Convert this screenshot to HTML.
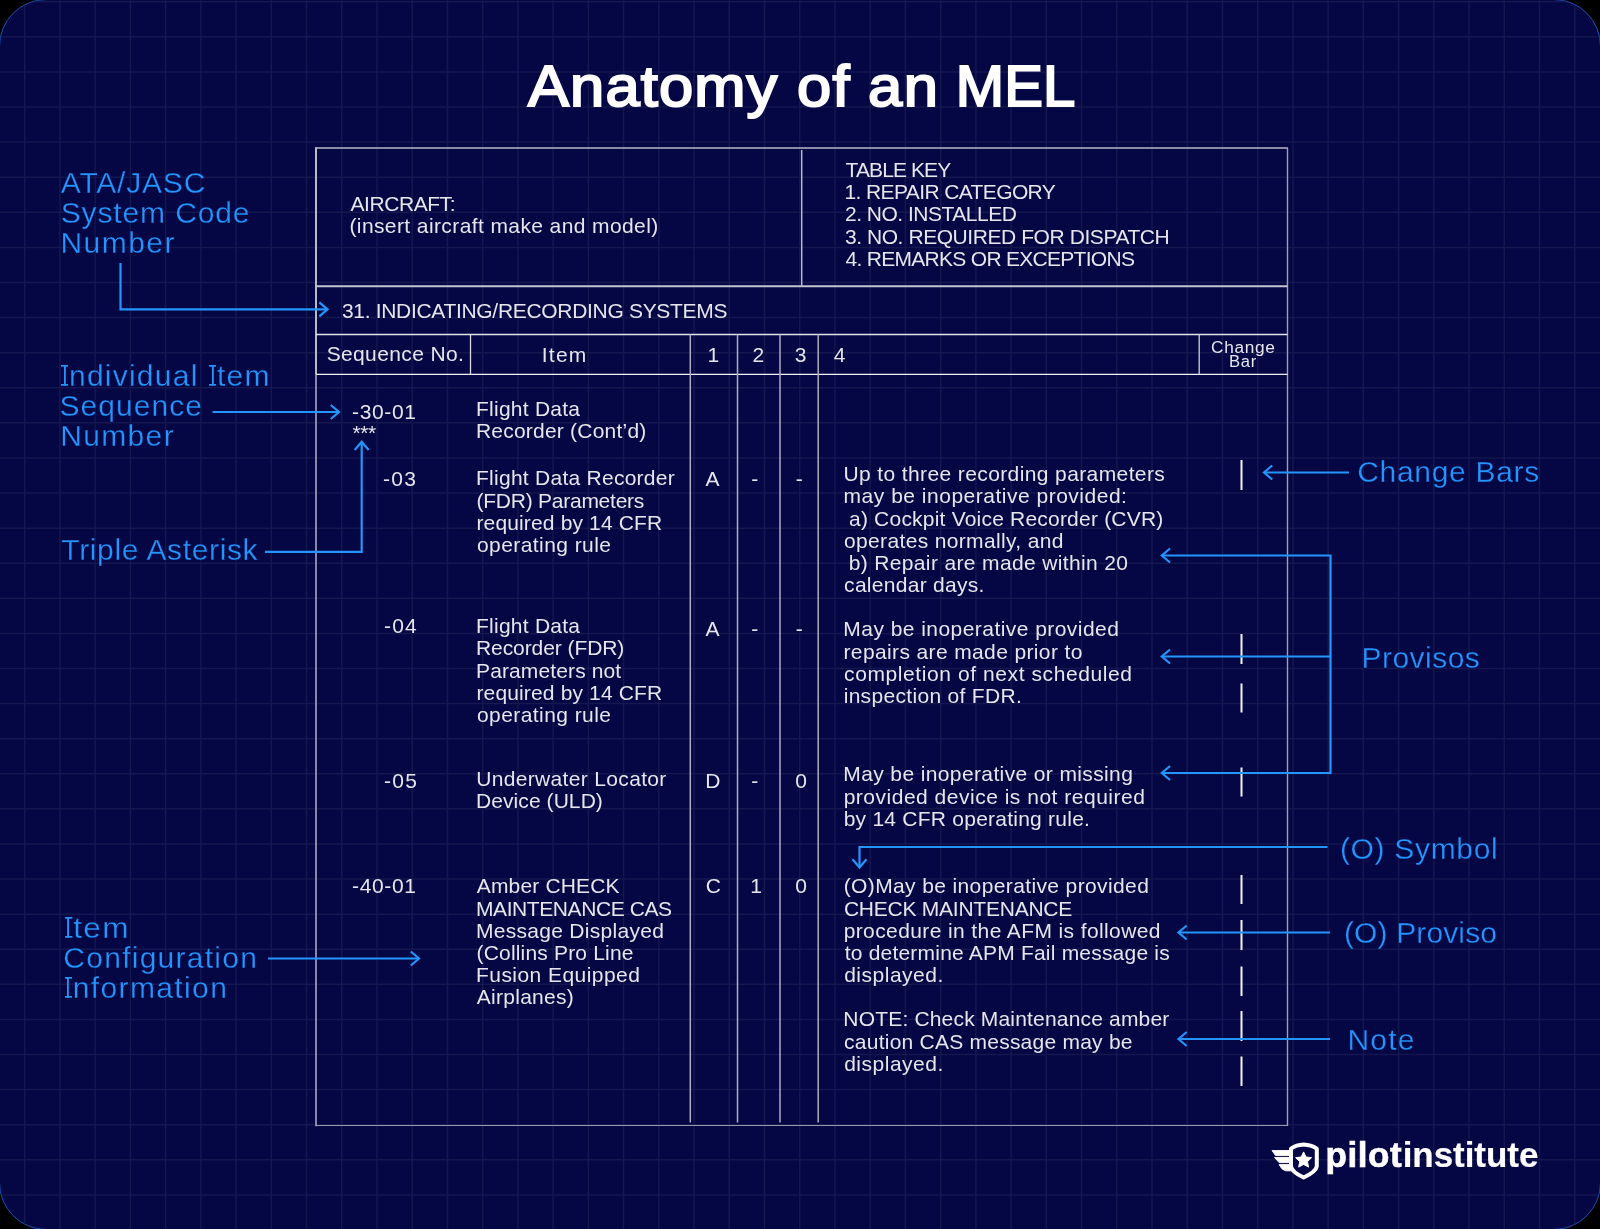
<!DOCTYPE html><html><head><meta charset="utf-8"><title>Anatomy of an MEL</title><style>
html,body{margin:0;padding:0;background:#000;overflow:hidden;}html{width:1600px;height:1229px;}
body{width:1600px;height:1229px;position:relative;overflow:hidden;font-family:"Liberation Sans",sans-serif;}
#card{position:absolute;left:-1.3px;top:-1.3px;width:1602.6px;height:1231.6px;box-sizing:border-box;border:1.3px solid #1a52b0;border-radius:47.3px;background:#050744;}
#stage{position:absolute;left:0;top:0;width:1600px;height:1229px;will-change:transform;border-radius:46px;overflow:hidden;}
.t{position:absolute;white-space:pre;line-height:1;margin:0;}
svg{position:absolute;left:0;top:0;}
.I{display:inline-block;width:7px;height:20.6px;margin:0 0.9px;background:linear-gradient(#2395fd,#2395fd) center/1.8px 100% no-repeat,linear-gradient(#2395fd,#2395fd) top/100% 1.7px no-repeat,linear-gradient(#2395fd,#2395fd) bottom/100% 1.7px no-repeat;}
</style></head><body>
<div id="card"></div>
<div id="stage">
<svg width="1600" height="1229" viewBox="0 0 1600 1229">
<g stroke="#15174f" stroke-width="1.5" fill="none">
<line x1="24.70" y1="0" x2="24.70" y2="1229"/>
<line x1="59.93" y1="0" x2="59.93" y2="1229"/>
<line x1="95.16" y1="0" x2="95.16" y2="1229"/>
<line x1="130.38" y1="0" x2="130.38" y2="1229"/>
<line x1="165.61" y1="0" x2="165.61" y2="1229"/>
<line x1="200.84" y1="0" x2="200.84" y2="1229"/>
<line x1="236.07" y1="0" x2="236.07" y2="1229"/>
<line x1="271.30" y1="0" x2="271.30" y2="1229"/>
<line x1="306.52" y1="0" x2="306.52" y2="1229"/>
<line x1="341.75" y1="0" x2="341.75" y2="1229"/>
<line x1="376.98" y1="0" x2="376.98" y2="1229"/>
<line x1="412.21" y1="0" x2="412.21" y2="1229"/>
<line x1="447.44" y1="0" x2="447.44" y2="1229"/>
<line x1="482.66" y1="0" x2="482.66" y2="1229"/>
<line x1="517.89" y1="0" x2="517.89" y2="1229"/>
<line x1="553.12" y1="0" x2="553.12" y2="1229"/>
<line x1="588.35" y1="0" x2="588.35" y2="1229"/>
<line x1="623.58" y1="0" x2="623.58" y2="1229"/>
<line x1="658.80" y1="0" x2="658.80" y2="1229"/>
<line x1="694.03" y1="0" x2="694.03" y2="1229"/>
<line x1="729.26" y1="0" x2="729.26" y2="1229"/>
<line x1="764.49" y1="0" x2="764.49" y2="1229"/>
<line x1="799.72" y1="0" x2="799.72" y2="1229"/>
<line x1="834.94" y1="0" x2="834.94" y2="1229"/>
<line x1="870.17" y1="0" x2="870.17" y2="1229"/>
<line x1="905.40" y1="0" x2="905.40" y2="1229"/>
<line x1="940.63" y1="0" x2="940.63" y2="1229"/>
<line x1="975.86" y1="0" x2="975.86" y2="1229"/>
<line x1="1011.08" y1="0" x2="1011.08" y2="1229"/>
<line x1="1046.31" y1="0" x2="1046.31" y2="1229"/>
<line x1="1081.54" y1="0" x2="1081.54" y2="1229"/>
<line x1="1116.77" y1="0" x2="1116.77" y2="1229"/>
<line x1="1152.00" y1="0" x2="1152.00" y2="1229"/>
<line x1="1187.22" y1="0" x2="1187.22" y2="1229"/>
<line x1="1222.45" y1="0" x2="1222.45" y2="1229"/>
<line x1="1257.68" y1="0" x2="1257.68" y2="1229"/>
<line x1="1292.91" y1="0" x2="1292.91" y2="1229"/>
<line x1="1328.14" y1="0" x2="1328.14" y2="1229"/>
<line x1="1363.36" y1="0" x2="1363.36" y2="1229"/>
<line x1="1398.59" y1="0" x2="1398.59" y2="1229"/>
<line x1="1433.82" y1="0" x2="1433.82" y2="1229"/>
<line x1="1469.05" y1="0" x2="1469.05" y2="1229"/>
<line x1="1504.28" y1="0" x2="1504.28" y2="1229"/>
<line x1="1539.50" y1="0" x2="1539.50" y2="1229"/>
<line x1="1574.73" y1="0" x2="1574.73" y2="1229"/>
<line x1="0" y1="1.75" x2="1600" y2="1.75"/>
<line x1="0" y1="36.84" x2="1600" y2="36.84"/>
<line x1="0" y1="71.93" x2="1600" y2="71.93"/>
<line x1="0" y1="107.03" x2="1600" y2="107.03"/>
<line x1="0" y1="142.12" x2="1600" y2="142.12"/>
<line x1="0" y1="177.21" x2="1600" y2="177.21"/>
<line x1="0" y1="212.30" x2="1600" y2="212.30"/>
<line x1="0" y1="247.39" x2="1600" y2="247.39"/>
<line x1="0" y1="282.49" x2="1600" y2="282.49"/>
<line x1="0" y1="317.58" x2="1600" y2="317.58"/>
<line x1="0" y1="352.67" x2="1600" y2="352.67"/>
<line x1="0" y1="387.76" x2="1600" y2="387.76"/>
<line x1="0" y1="422.85" x2="1600" y2="422.85"/>
<line x1="0" y1="457.95" x2="1600" y2="457.95"/>
<line x1="0" y1="493.04" x2="1600" y2="493.04"/>
<line x1="0" y1="528.13" x2="1600" y2="528.13"/>
<line x1="0" y1="563.22" x2="1600" y2="563.22"/>
<line x1="0" y1="598.31" x2="1600" y2="598.31"/>
<line x1="0" y1="633.41" x2="1600" y2="633.41"/>
<line x1="0" y1="668.50" x2="1600" y2="668.50"/>
<line x1="0" y1="703.59" x2="1600" y2="703.59"/>
<line x1="0" y1="738.68" x2="1600" y2="738.68"/>
<line x1="0" y1="773.77" x2="1600" y2="773.77"/>
<line x1="0" y1="808.87" x2="1600" y2="808.87"/>
<line x1="0" y1="843.96" x2="1600" y2="843.96"/>
<line x1="0" y1="879.05" x2="1600" y2="879.05"/>
<line x1="0" y1="914.14" x2="1600" y2="914.14"/>
<line x1="0" y1="949.23" x2="1600" y2="949.23"/>
<line x1="0" y1="984.33" x2="1600" y2="984.33"/>
<line x1="0" y1="1019.42" x2="1600" y2="1019.42"/>
<line x1="0" y1="1054.51" x2="1600" y2="1054.51"/>
<line x1="0" y1="1089.60" x2="1600" y2="1089.60"/>
<line x1="0" y1="1124.69" x2="1600" y2="1124.69"/>
<line x1="0" y1="1159.79" x2="1600" y2="1159.79"/>
<line x1="0" y1="1194.88" x2="1600" y2="1194.88"/>
</g>
<line x1="316" y1="147.2" x2="316" y2="374.3" stroke="#c4c4ce" stroke-width="1.9"/>
<line x1="316" y1="374.3" x2="316" y2="1126.3" stroke="#a9a9bc" stroke-width="1.6"/>
<line x1="316" y1="148" x2="1288" y2="148" stroke="#b9b9c6" stroke-width="1.7"/>
<line x1="1287.5" y1="148" x2="1287.5" y2="1126" stroke="#9e9eb4" stroke-width="1.4"/>
<line x1="316" y1="1125.5" x2="1288" y2="1125.5" stroke="#9a9ab0" stroke-width="1.2"/>
<line x1="316" y1="286.3" x2="1287.5" y2="286.3" stroke="#c4c4ce" stroke-width="1.9"/>
<line x1="801.7" y1="150" x2="801.7" y2="286.3" stroke="#b9b9c6" stroke-width="1.5"/>
<line x1="316" y1="334.5" x2="1287.5" y2="334.5" stroke="#e2e2ea" stroke-width="1.5"/>
<line x1="316" y1="374.3" x2="1287.5" y2="374.3" stroke="#f2f2f6" stroke-width="1.2"/>
<line x1="470.5" y1="334.5" x2="470.5" y2="374.3" stroke="#d8d8e0" stroke-width="1.3"/>
<line x1="1199.2" y1="334.5" x2="1199.2" y2="374.3" stroke="#d0d0da" stroke-width="1.3"/>
<line x1="690.3" y1="334.5" x2="690.3" y2="1122.5" stroke="#aeaec0" stroke-width="1.5"/>
<line x1="737.5" y1="334.5" x2="737.5" y2="1122.5" stroke="#aeaec0" stroke-width="1.5"/>
<line x1="780" y1="334.5" x2="780" y2="1122.5" stroke="#aeaec0" stroke-width="1.5"/>
<line x1="818.2" y1="334.5" x2="818.2" y2="1122.5" stroke="#aeaec0" stroke-width="1.5"/>
<g stroke="#f4f4f8" stroke-width="2" fill="none">
<line x1="1241.5" y1="460" x2="1241.5" y2="490"/>
<line x1="1241.5" y1="634" x2="1241.5" y2="664"/>
<line x1="1241.5" y1="683.5" x2="1241.5" y2="712.5"/>
<line x1="1241.5" y1="767.5" x2="1241.5" y2="796.5"/>
<line x1="1241.5" y1="875" x2="1241.5" y2="904"/>
<line x1="1241.5" y1="920" x2="1241.5" y2="950"/>
<line x1="1241.5" y1="966.5" x2="1241.5" y2="996"/>
<line x1="1241.5" y1="1011" x2="1241.5" y2="1041"/>
<line x1="1241.5" y1="1056.5" x2="1241.5" y2="1086"/>
</g>
<g stroke="#2395fd" stroke-width="2.2" fill="none" stroke-linejoin="miter" stroke-linecap="butt">
<path d="M120.5 263V309.3H327.5"/>
<path d="M319.3 302.3L327.5 309.3L319.3 316.3"/>
<path d="M212.5 412H339"/>
<path d="M330.8 405L339 412L330.8 419"/>
<path d="M265 551.8H361.7V442"/>
<path d="M354.7 450L361.7 441.8L368.7 450"/>
<path d="M268 958.5H419"/>
<path d="M410.8 951.5L419 958.5L410.8 965.5"/>
<path d="M1349 472.5H1264"/>
<path d="M1272.2 465.5L1264 472.5L1272.2 479.5"/>
<path d="M1161.8 555.5H1330.5V773H1161.8"/>
<path d="M1330.5 656.5H1161.8"/>
<path d="M1170 548.5L1161.8 555.5L1170 562.5"/>
<path d="M1170 649.5L1161.8 656.5L1170 663.5"/>
<path d="M1170 766L1161.8 773L1170 780"/>
<path d="M1327.5 847H859.5V867"/>
<path d="M852.5 859.3L859.5 867.5L866.5 859.3"/>
<path d="M1330 932.5H1178.5"/>
<path d="M1186.7 925.5L1178.5 932.5L1186.7 939.5"/>
<path d="M1330 1039H1178.5"/>
<path d="M1186.7 1032L1178.5 1039L1186.7 1046"/>
</g>
<g id="logo">
<g fill="#fff" stroke="#fff" stroke-width="0.9" stroke-linejoin="round">
<path d="M1272 1150.5H1292V1155.6H1275.5Z"/>
<path d="M1274.5 1157.5H1292V1162.6H1279.2Z"/>
<path d="M1279.1 1164.6H1292V1170.8H1285.6Q1281.6 1170 1279.1 1164.6Z"/>
</g>
<path fill="#060846" stroke="#fff" stroke-width="4" stroke-linejoin="round" d="M1303.6 1144.6C1309 1144.9 1313.5 1146.5 1316.8 1148.6V1166.2C1316.2 1170.5 1311 1174 1303.6 1177.5C1296 1174 1291.3 1170.5 1291 1166.2V1148.6C1294 1146.5 1298.5 1144.9 1303.6 1144.6Z"/>
<polygon fill="#fff" stroke="#fff" stroke-width="1" stroke-linejoin="round" points="1303.60,1151.90 1306.01,1156.98 1311.59,1157.70 1307.50,1161.57 1308.54,1167.10 1303.60,1164.40 1298.66,1167.10 1299.70,1161.57 1295.61,1157.70 1301.19,1156.98"/>
</g>
</svg>
<div class="t" id="t0" style="left:527.78px;top:57px;font-size:58px;color:#ffffff;-webkit-text-stroke:2.1px #ffffff;transform:scaleX(1.06);transform-origin:0 0;letter-spacing:1.045px;">Anatomy</div>
<div class="t" id="t1" style="left:796.76px;top:57px;font-size:58px;color:#ffffff;-webkit-text-stroke:2.1px #ffffff;transform:scaleX(1.06);transform-origin:0 0;letter-spacing:1.282px;">of</div>
<div class="t" id="t2" style="left:868.13px;top:57px;font-size:58px;color:#ffffff;-webkit-text-stroke:2.1px #ffffff;transform:scaleX(1.06);transform-origin:0 0;letter-spacing:1.485px;">an</div>
<div class="t" id="t3" style="left:955.72px;top:57px;font-size:58px;color:#ffffff;-webkit-text-stroke:2.1px #ffffff;letter-spacing:0.133px;">MEL</div>
<div class="t" id="t4" style="left:60.81px;top:168px;font-size:30px;color:#2395fd;letter-spacing:0.805px;-webkit-text-stroke:0.3px #050744;">ATA/JASC</div>
<div class="t" id="t5" style="left:60.72px;top:198px;font-size:30px;color:#2395fd;letter-spacing:0.872px;-webkit-text-stroke:0.3px #050744;">System Code</div>
<div class="t" id="t6" style="left:60.47px;top:228px;font-size:30px;color:#2395fd;letter-spacing:1.452px;-webkit-text-stroke:0.3px #050744;">Number</div>
<div class="t" id="t7" style="left:60.20px;top:361px;font-size:30px;color:#2395fd;letter-spacing:1.239px;-webkit-text-stroke:0.3px #050744;"><span class="I"></span>ndividual <span class="I"></span>tem</div>
<div class="t" id="t8" style="left:59.51px;top:391px;font-size:30px;color:#2395fd;letter-spacing:1.055px;-webkit-text-stroke:0.3px #050744;">Sequence</div>
<div class="t" id="t9" style="left:60.21px;top:421px;font-size:30px;color:#2395fd;letter-spacing:1.345px;-webkit-text-stroke:0.3px #050744;">Number</div>
<div class="t" id="t10" style="left:61.32px;top:535px;font-size:30px;color:#2395fd;letter-spacing:0.646px;-webkit-text-stroke:0.3px #050744;">Triple Asterisk</div>
<div class="t" id="t11" style="left:64.06px;top:913px;font-size:30px;color:#2395fd;transform:scaleX(1.05);transform-origin:0 0;letter-spacing:1.285px;-webkit-text-stroke:0.3px #050744;"><span class="I"></span>tem</div>
<div class="t" id="t12" style="left:63.36px;top:943px;font-size:30px;color:#2395fd;letter-spacing:1.257px;-webkit-text-stroke:0.3px #050744;">Configuration</div>
<div class="t" id="t13" style="left:64.00px;top:973px;font-size:30px;color:#2395fd;letter-spacing:1.370px;-webkit-text-stroke:0.3px #050744;"><span class="I"></span>nformation</div>
<div class="t" id="t14" style="left:1357.16px;top:457px;font-size:30px;color:#2395fd;letter-spacing:0.694px;-webkit-text-stroke:0.3px #050744;">Change Bars</div>
<div class="t" id="t15" style="left:1361.47px;top:643px;font-size:30px;color:#2395fd;letter-spacing:0.472px;-webkit-text-stroke:0.3px #050744;">Provisos</div>
<div class="t" id="t16" style="left:1339.94px;top:834px;font-size:30px;color:#2395fd;letter-spacing:0.676px;-webkit-text-stroke:0.3px #050744;">(O) Symbol</div>
<div class="t" id="t17" style="left:1344.00px;top:918px;font-size:30px;color:#2395fd;letter-spacing:0.127px;-webkit-text-stroke:0.3px #050744;">(O) Proviso</div>
<div class="t" id="t18" style="left:1347.48px;top:1025px;font-size:30px;color:#2395fd;letter-spacing:1.165px;-webkit-text-stroke:0.3px #050744;">Note</div>
<div class="t" id="t19" style="left:350.47px;top:193px;font-size:21px;color:#e6e6ec;letter-spacing:-0.432px;">AIRCRAFT:</div>
<div class="t" id="t20" style="left:349.44px;top:215px;font-size:21px;color:#e6e6ec;letter-spacing:0.399px;">(insert aircraft make and model)</div>
<div class="t" id="t21" style="left:845.59px;top:159px;font-size:21px;color:#e6e6ec;letter-spacing:-0.906px;">TABLE KEY</div>
<div class="t" id="t22" style="left:844.47px;top:181px;font-size:21px;color:#e6e6ec;letter-spacing:-0.611px;">1. REPAIR CATEGORY</div>
<div class="t" id="t23" style="left:844.95px;top:203px;font-size:21px;color:#e6e6ec;letter-spacing:-0.491px;">2. NO. INSTALLED</div>
<div class="t" id="t24" style="left:844.90px;top:226px;font-size:21px;color:#e6e6ec;letter-spacing:-0.429px;">3. NO. REQUIRED FOR DISPATCH</div>
<div class="t" id="t25" style="left:845.57px;top:248px;font-size:21px;color:#e6e6ec;letter-spacing:-0.711px;">4. REMARKS OR EXCEPTIONS</div>
<div class="t" id="t26" style="left:341.90px;top:300px;font-size:21px;color:#e6e6ec;letter-spacing:-0.309px;">31. INDICATING/RECORDING SYSTEMS</div>
<div class="t" id="t27" style="left:326.64px;top:343px;font-size:21px;color:#e6e6ec;letter-spacing:0.376px;">Sequence No.</div>
<div class="t" id="t28" style="left:541.82px;top:344px;font-size:21px;color:#e6e6ec;letter-spacing:1.214px;">Item</div>
<div class="t" id="t29" style="left:707.50px;top:344px;font-size:21px;color:#e6e6ec;">1</div>
<div class="t" id="t30" style="left:752.39px;top:344px;font-size:21px;color:#e6e6ec;">2</div>
<div class="t" id="t31" style="left:794.74px;top:344px;font-size:21px;color:#e6e6ec;">3</div>
<div class="t" id="t32" style="left:833.74px;top:344px;font-size:21px;color:#e6e6ec;">4</div>
<div class="t" id="t33" style="left:1210.71px;top:340px;font-size:16px;color:#e6e6ec;transform:scaleX(1.08);transform-origin:0 0;letter-spacing:0.607px;">Change</div>
<div class="t" id="t34" style="left:1229.46px;top:354px;font-size:16px;color:#e6e6ec;transform:scaleX(1.04);transform-origin:0 0;letter-spacing:0.615px;">Bar</div>
<div class="t" id="t35" style="left:352.00px;top:401px;font-size:21px;color:#e6e6ec;letter-spacing:0.660px;">-30-01</div>
<div class="t" id="t36" style="left:352.44px;top:422px;font-size:21px;color:#e6e6ec;letter-spacing:-0.369px;">***</div>
<div class="t" id="t37" style="left:383.00px;top:468px;font-size:21px;color:#e6e6ec;letter-spacing:1.267px;">-03</div>
<div class="t" id="t38" style="left:384.00px;top:615px;font-size:21px;color:#e6e6ec;letter-spacing:1.157px;">-04</div>
<div class="t" id="t39" style="left:384.00px;top:770px;font-size:21px;color:#e6e6ec;letter-spacing:1.227px;">-05</div>
<div class="t" id="t40" style="left:352.00px;top:875px;font-size:21px;color:#e6e6ec;letter-spacing:0.660px;">-40-01</div>
<div class="t" id="t41" style="left:476.02px;top:398px;font-size:21px;color:#e6e6ec;letter-spacing:0.242px;">Flight Data</div>
<div class="t" id="t42" style="left:475.99px;top:420px;font-size:21px;color:#e6e6ec;letter-spacing:0.213px;">Recorder (Cont’d)</div>
<div class="t" id="t43" style="left:476.02px;top:467px;font-size:21px;color:#e6e6ec;letter-spacing:0.262px;">Flight Data Recorder</div>
<div class="t" id="t44" style="left:476.54px;top:490px;font-size:21px;color:#e6e6ec;letter-spacing:-0.249px;">(FDR) Parameters</div>
<div class="t" id="t45" style="left:476.46px;top:512px;font-size:21px;color:#e6e6ec;letter-spacing:0.145px;">required by 14 CFR</div>
<div class="t" id="t46" style="left:477.00px;top:534px;font-size:21px;color:#e6e6ec;letter-spacing:0.428px;">operating rule</div>
<div class="t" id="t47" style="left:476.02px;top:615px;font-size:21px;color:#e6e6ec;letter-spacing:0.242px;">Flight Data</div>
<div class="t" id="t48" style="left:475.99px;top:637px;font-size:21px;color:#e6e6ec;letter-spacing:-0.080px;">Recorder (FDR)</div>
<div class="t" id="t49" style="left:476.02px;top:660px;font-size:21px;color:#e6e6ec;letter-spacing:0.125px;">Parameters not</div>
<div class="t" id="t50" style="left:476.46px;top:682px;font-size:21px;color:#e6e6ec;letter-spacing:0.145px;">required by 14 CFR</div>
<div class="t" id="t51" style="left:477.00px;top:704px;font-size:21px;color:#e6e6ec;letter-spacing:0.428px;">operating rule</div>
<div class="t" id="t52" style="left:476.27px;top:768px;font-size:21px;color:#e6e6ec;letter-spacing:0.331px;">Underwater Locator</div>
<div class="t" id="t53" style="left:475.99px;top:790px;font-size:21px;color:#e6e6ec;letter-spacing:0.078px;">Device (ULD)</div>
<div class="t" id="t54" style="left:476.78px;top:875px;font-size:21px;color:#e6e6ec;letter-spacing:0.157px;">Amber CHECK</div>
<div class="t" id="t55" style="left:475.99px;top:898px;font-size:21px;color:#e6e6ec;letter-spacing:-0.411px;">MAINTENANCE CAS</div>
<div class="t" id="t56" style="left:475.99px;top:920px;font-size:21px;color:#e6e6ec;letter-spacing:0.290px;">Message Displayed</div>
<div class="t" id="t57" style="left:476.54px;top:942px;font-size:21px;color:#e6e6ec;letter-spacing:0.176px;">(Collins Pro Line</div>
<div class="t" id="t58" style="left:475.99px;top:964px;font-size:21px;color:#e6e6ec;letter-spacing:0.444px;">Fusion Equipped</div>
<div class="t" id="t59" style="left:476.78px;top:986px;font-size:21px;color:#e6e6ec;letter-spacing:0.278px;">Airplanes)</div>
<div class="t" id="t60" style="left:705.49px;top:468px;font-size:21px;color:#e6e6ec;">A</div>
<div class="t" id="t61" style="left:751.25px;top:468px;font-size:21px;color:#e6e6ec;">-</div>
<div class="t" id="t62" style="left:795.75px;top:468px;font-size:21px;color:#e6e6ec;">-</div>
<div class="t" id="t63" style="left:705.49px;top:618px;font-size:21px;color:#e6e6ec;">A</div>
<div class="t" id="t64" style="left:751.25px;top:618px;font-size:21px;color:#e6e6ec;">-</div>
<div class="t" id="t65" style="left:795.75px;top:618px;font-size:21px;color:#e6e6ec;">-</div>
<div class="t" id="t66" style="left:705.33px;top:770px;font-size:21px;color:#e6e6ec;">D</div>
<div class="t" id="t67" style="left:751.25px;top:770px;font-size:21px;color:#e6e6ec;">-</div>
<div class="t" id="t68" style="left:795.16px;top:770px;font-size:21px;color:#e6e6ec;">0</div>
<div class="t" id="t69" style="left:705.82px;top:875px;font-size:21px;color:#e6e6ec;">C</div>
<div class="t" id="t70" style="left:750.24px;top:875px;font-size:21px;color:#e6e6ec;">1</div>
<div class="t" id="t71" style="left:795.16px;top:875px;font-size:21px;color:#e6e6ec;">0</div>
<div class="t" id="t72" style="left:843.44px;top:463px;font-size:21px;color:#e6e6ec;letter-spacing:0.389px;">Up to three recording parameters</div>
<div class="t" id="t73" style="left:843.62px;top:485px;font-size:21px;color:#e6e6ec;letter-spacing:0.506px;">may be inoperative provided:</div>
<div class="t" id="t74" style="left:849.00px;top:508px;font-size:21px;color:#e6e6ec;letter-spacing:0.206px;">a) Cockpit Voice Recorder (CVR)</div>
<div class="t" id="t75" style="left:844.00px;top:530px;font-size:21px;color:#e6e6ec;letter-spacing:0.350px;">operates normally, and</div>
<div class="t" id="t76" style="left:848.67px;top:552px;font-size:21px;color:#e6e6ec;letter-spacing:0.358px;">b) Repair are made within 20</div>
<div class="t" id="t77" style="left:844.11px;top:574px;font-size:21px;color:#e6e6ec;letter-spacing:0.283px;">calendar days.</div>
<div class="t" id="t78" style="left:843.35px;top:618px;font-size:21px;color:#e6e6ec;letter-spacing:0.450px;">May be inoperative provided</div>
<div class="t" id="t79" style="left:843.50px;top:641px;font-size:21px;color:#e6e6ec;letter-spacing:0.372px;">repairs are made prior to</div>
<div class="t" id="t80" style="left:844.11px;top:663px;font-size:21px;color:#e6e6ec;letter-spacing:0.585px;">completion of next scheduled</div>
<div class="t" id="t81" style="left:843.65px;top:685px;font-size:21px;color:#e6e6ec;letter-spacing:0.319px;">inspection of FDR.</div>
<div class="t" id="t82" style="left:843.35px;top:763px;font-size:21px;color:#e6e6ec;letter-spacing:0.377px;">May be inoperative or missing</div>
<div class="t" id="t83" style="left:843.65px;top:786px;font-size:21px;color:#e6e6ec;letter-spacing:0.508px;">provided device is not required</div>
<div class="t" id="t84" style="left:843.65px;top:808px;font-size:21px;color:#e6e6ec;letter-spacing:0.244px;">by 14 CFR operating rule.</div>
<div class="t" id="t85" style="left:843.73px;top:875px;font-size:21px;color:#e6e6ec;letter-spacing:0.378px;">(O)May be inoperative provided</div>
<div class="t" id="t86" style="left:843.90px;top:898px;font-size:21px;color:#e6e6ec;letter-spacing:-0.239px;">CHECK MAINTENANCE</div>
<div class="t" id="t87" style="left:843.67px;top:920px;font-size:21px;color:#e6e6ec;letter-spacing:0.392px;">procedure in the AFM is followed</div>
<div class="t" id="t88" style="left:844.73px;top:942px;font-size:21px;color:#e6e6ec;letter-spacing:0.204px;">to determine APM Fail message is</div>
<div class="t" id="t89" style="left:844.14px;top:964px;font-size:21px;color:#e6e6ec;letter-spacing:0.516px;">displayed.</div>
<div class="t" id="t90" style="left:843.35px;top:1008px;font-size:21px;color:#e6e6ec;letter-spacing:0.177px;">NOTE: Check Maintenance amber</div>
<div class="t" id="t91" style="left:844.11px;top:1031px;font-size:21px;color:#e6e6ec;letter-spacing:0.236px;">caution CAS message may be</div>
<div class="t" id="t92" style="left:844.14px;top:1053px;font-size:21px;color:#e6e6ec;letter-spacing:0.516px;">displayed.</div>
<div class="t" id="t93" style="left:1325.48px;top:1137px;font-size:35px;color:#ffffff;font-weight:700;-webkit-text-stroke:0.7px #ffffff;letter-spacing:0.573px;">pilot</div>
<div class="t" id="t94" style="left:1402.65px;top:1137px;font-size:35px;color:#ffffff;font-weight:700;-webkit-text-stroke:0.2px #ffffff;letter-spacing:-0.044px;">institute</div>
</div></body></html>
